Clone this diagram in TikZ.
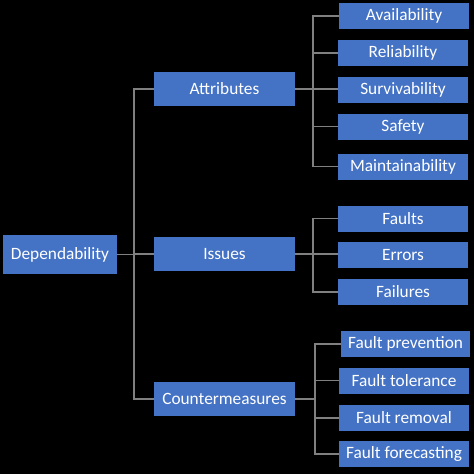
\documentclass[tikz,border=0pt]{standalone}
\usepackage{fontspec}
\setmainfont{Carlito}
\definecolor{boxblue}{HTML}{4472C4}
\definecolor{linegray}{HTML}{808080}
\begin{document}
\begin{tikzpicture}[x=1pt,y=-1pt,
  box/.style={fill=boxblue,text=white,inner sep=0pt,font=\fontsize{17.3}{19}\selectfont},
  mid/.style={box,minimum width=141pt,minimum height=34pt},
  leaf/.style={box,minimum width=130pt,minimum height=26pt},
  conn/.style={draw=linegray,line width=1.1pt}]
\fill[black] (0,0) rectangle (474,474);
\useasboundingbox (0,0) rectangle (474,474);
\node[box,minimum width=114pt,minimum height=39pt] (dep) at (60,254.5) {Dependability};
\node[mid] (att) at (224.5,89) {Attributes};
\node[mid] (iss) at (224.5,254) {Issues};
\node[mid] (cm) at (224.5,399) {Countermeasures};
\node[leaf] (av) at (404,16) {Availability};
\node[leaf] (rel) at (403,53) {Reliability};
\node[leaf] (sur) at (403,90) {Survivability};
\node[leaf] (saf) at (403,126.5) {Safety};
\node[leaf] (mai) at (403,166.5) {Maintainability};
\node[leaf] (fau) at (403,218.5) {Faults};
\node[leaf] (err) at (403,255) {Errors};
\node[leaf] (fai) at (403,292) {Failures};
\node[leaf,minimum width=129pt] (fp) at (405.5,344) {Fault prevention};
\node[leaf] (ft) at (404,380.5) {Fault tolerance};
\node[leaf] (fr) at (404,418) {Fault removal};
\node[leaf] (ff) at (404,454) {Fault forecasting};
\coordinate (b0) at (134,0);
\coordinate (b1) at (313,0);
\coordinate (b2) at (315,0);
% level 1
\draw[conn] (dep.east) -- (dep.east -| b0);
\draw[conn] (att.west) -- (att.west -| b0) |- (cm.west);
\draw[conn] (iss.west) -- (iss.west -| b0);
% attributes
\draw[conn] (att.east) -- (att.east -| sur.west);
\draw[conn] (av.west) -- (av.west -| b1) |- (mai.west);
\draw[conn] (rel.west) -- (rel.west -| b1);
\draw[conn] (saf.west) -- (saf.west -| b1);
% issues
\draw[conn] (iss.east) -- (iss.east -| err.west);
\draw[conn] (fau.west) -- (fau.west -| b1) |- (fai.west);
% countermeasures
\draw[conn] (cm.east) -- (cm.east -| b2);
\draw[conn] (fp.west) -- (fp.west -| b2) |- (ff.west);
\draw[conn] (ft.west) -- (ft.west -| b2);
\draw[conn] (fr.west) -- (fr.west -| b2);
\end{tikzpicture}
\end{document}
